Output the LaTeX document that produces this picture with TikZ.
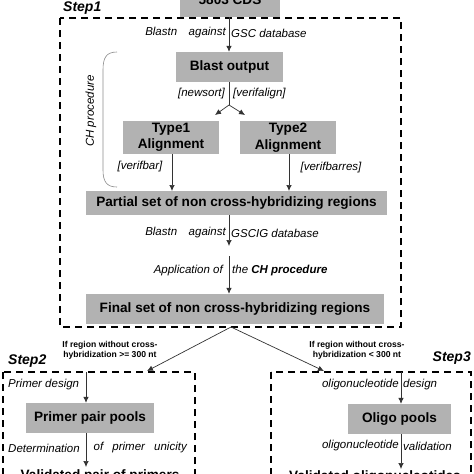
\documentclass[tikz,border=0pt]{standalone}
\usepackage{fontspec}
\setmainfont{Liberation Sans}
\usetikzlibrary{arrows.meta}
\begin{document}
\begin{tikzpicture}[x=1pt,y=-1pt,
  box/.style={fill=black!30,draw=none,inner sep=0pt,font=\fontsize{13.6}{16.5}\selectfont\bfseries,align=center},
  lab/.style={inner sep=0pt,font=\fontsize{11.5}{13}\selectfont\itshape},
  cond/.style={inner sep=0pt,font=\fontsize{8.6}{10}\selectfont\bfseries,align=center},
  steplab/.style={inner sep=0pt,font=\fontsize{14}{16}\selectfont\bfseries\itshape},
  frame/.style={draw=black,line width=1.8pt,dash pattern=on 7pt off 5pt},
  arr/.style={draw=black!80,line width=0.7pt,-{Latex[length=6pt,width=5.5pt]}},
  ln/.style={draw=black!80,line width=0.7pt}]
\useasboundingbox (0,0) rectangle (474,474);
\fill[white] (0,0) rectangle (474,474);
% frames
\draw[frame] (60,18) rectangle (401,327);
\draw[frame] (3,372) rectangle (195,490);
\draw[frame] (271,372) rectangle (471,490);
\node[steplab,anchor=west] (s1) at (63,8) {Step1};
\node[steplab,anchor=west] (s2) at (8,361) {Step2};
\node[steplab,anchor=east] (s3) at (471,358) {Step3};
% boxes
\node[box,minimum width=100pt,minimum height=34pt] (cds) at (230,0) {5803 CDS};
\node[box,minimum width=107pt,minimum height=30pt] (blast) at (229.5,67) {Blast output};
\node[box,minimum width=96pt,minimum height=33pt] (type1) at (171,137.5) {Type1\\Alignment};
\node[box,minimum width=96pt,minimum height=33pt] (type2) at (288,137.5) {Type2\\Alignment};
\node[box,minimum width=301pt,minimum height=24pt] (partial) at (236.5,203) {Partial set of non cross-hybridizing regions};
\node[box,minimum width=298pt,minimum height=30pt] (final) at (235,309) {Final set of non cross-hybridizing regions};
\node[box,minimum width=128pt,minimum height=30pt] (primer) at (90,418) {Primer pair pools};
\node[box,minimum width=103pt,minimum height=30pt] (oligo) at (399.5,419) {Oligo pools};
\node[box,fill=none] (val1) at (100,476) {Validated pair of primers};
\node[box,fill=none] (val2) at (375,477) {Validated oligonucleotides};
% coordinates
\coordinate (fork) at (229,105);
\coordinate (fl) at (215,115);
\coordinate (fr) at (245,115);
\coordinate (mid1) at (229,246);
\coordinate (mid2) at (229,256);
\coordinate (split) at (231,327);
\coordinate (t2) at (147,371);
\coordinate (t3) at (324,371);
\coordinate (s2top) at (86,372);
\coordinate (s3top) at (401,372);
\coordinate (p2end) at (86,467);
\coordinate (p3end) at (401,469);
% connectors
\draw[arr] (cds.south -| 229,0) -- (blast.north -| 229,0);
\node[lab,anchor=east] (l1a) at (226,33) {Blastn\quad against};
\node[lab,anchor=west] (l1b) at (231,33) {GSC database};
\draw[ln] (blast.south -| fork) -- (fork);
\draw[arr] (fork) -- (fl);
\draw[arr] (fork) -- (fr);
\node[lab,anchor=east] (l2a) at (225,94) {[newsort]};
\node[lab,anchor=west] (l2b) at (233,94) {[verifalign]};
\draw[arr] (172,154) -- (172,191);
\draw[arr] (289,154) -- (289,191);
\node[lab] (l3a) at (140,167) {[verifbar]};
\node[lab] (l3b) at (331,168) {[verifbarres]};
\draw[arr] (partial.south -| mid1) -- (mid1);
\node[lab,anchor=east] (l4a) at (226,233) {Blastn\quad against};
\node[lab,anchor=west] (l4b) at (231,233) {GSCIG database};
\draw[arr] (mid2) -- (final.north -| mid2);
\node[lab,anchor=east] (l5a) at (223,271) {Application of};
\node[lab,anchor=west] (l5b) at (232,271) {the \textbf{CH procedure}};
\draw[arr] (split) -- (t2);
\draw[arr] (split) -- (t3);
\node[cond] (c1) at (110,350) {If region without cross-\\hybridization >= 300 nt};
\node[cond] (c2) at (357,350) {If region without cross-\\hybridization < 300 nt};
% CH procedure brace
\draw[black!45,line width=0.6pt] (117,52) .. controls (106,52) and (103,58) .. (103,70) -- (103,170) .. controls (103,182) and (107,187) .. (117,187);
\node[lab,rotate=90] (ch) at (91,111) {CH procedure};
% step2
\draw[arr] (s2top) -- (primer.north -| s2top);
\node[lab,anchor=west] (l6) at (8,385) {Primer design};
\draw[arr] (primer.south -| p2end) -- (p2end);
\node[lab,anchor=west] (l7a) at (8,448) {Determination};
\node[lab,anchor=east] (l7b) at (187,448) {of\hspace{6pt} primer\hspace{6pt} unicity};
% step3
\draw[arr] (s3top) -- (oligo.north -| s3top);
\node[lab,anchor=east] (l8a) at (399,385) {oligonucleotide};
\node[lab,anchor=west] (l8b) at (403,385) {design};
\draw[arr] (oligo.south -| p3end) -- (p3end);
\node[lab,anchor=east] (l9a) at (399,446) {oligonucleotide};
\node[lab,anchor=west] (l9b) at (403,446) {validation};
\end{tikzpicture}
\end{document}
